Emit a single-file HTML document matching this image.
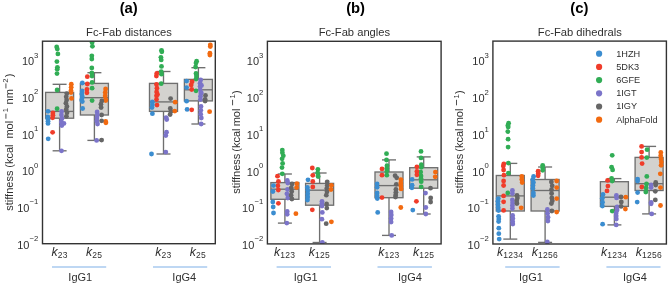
<!DOCTYPE html><html><head><meta charset="utf-8"><style>html,body{margin:0;padding:0;background:#fff;width:669px;height:286px;overflow:hidden}svg{display:block;will-change:transform}text{font-family:"Liberation Sans", sans-serif;fill:#303030}</style></head><body>
<svg width="669" height="286" viewBox="0 0 669 286">
<rect width="669" height="286" fill="#fff"/>
<text x="128.7" y="13.3" font-size="14.8" font-weight="bold" text-anchor="middle" style="fill:#000">(a)</text>
<text x="129.0" y="35.8" font-size="11.2" text-anchor="middle">Fc-Fab distances</text>
<g stroke="#6f6f6f" stroke-width="1.35" fill="none">
<line x1="59.6" y1="92.4" x2="59.6" y2="84.3"/>
<line x1="59.6" y1="118.2" x2="59.6" y2="150.8"/>
<line x1="52.6" y1="84.3" x2="66.6" y2="84.3"/>
<line x1="52.6" y1="150.8" x2="66.6" y2="150.8"/>
<rect x="45.6" y="92.4" width="28.0" height="25.8" fill="#d3d2cf"/>
<line x1="45.6" y1="111.4" x2="73.6" y2="111.4"/>
</g>
<g stroke="#6f6f6f" stroke-width="1.35" fill="none">
<line x1="94.4" y1="83.4" x2="94.4" y2="72.7"/>
<line x1="94.4" y1="115.0" x2="94.4" y2="140.4"/>
<line x1="87.4" y1="72.7" x2="101.4" y2="72.7"/>
<line x1="87.4" y1="140.4" x2="101.4" y2="140.4"/>
<rect x="80.4" y="83.4" width="28.0" height="31.6" fill="#d3d2cf"/>
<line x1="80.4" y1="97.7" x2="108.4" y2="97.7"/>
</g>
<g stroke="#6f6f6f" stroke-width="1.35" fill="none">
<line x1="163.5" y1="83.4" x2="163.5" y2="71.5"/>
<line x1="163.5" y1="111.4" x2="163.5" y2="154.0"/>
<line x1="156.5" y1="71.5" x2="170.5" y2="71.5"/>
<line x1="156.5" y1="154.0" x2="170.5" y2="154.0"/>
<rect x="149.5" y="83.4" width="28.0" height="28.0" fill="#d3d2cf"/>
<line x1="149.5" y1="101.9" x2="177.5" y2="101.9"/>
</g>
<g stroke="#6f6f6f" stroke-width="1.35" fill="none">
<line x1="198.4" y1="79.4" x2="198.4" y2="67.7"/>
<line x1="198.4" y1="100.9" x2="198.4" y2="124.0"/>
<line x1="191.4" y1="67.7" x2="205.4" y2="67.7"/>
<line x1="191.4" y1="124.0" x2="205.4" y2="124.0"/>
<rect x="184.4" y="79.4" width="28.0" height="21.5" fill="#d3d2cf"/>
<line x1="184.4" y1="89.8" x2="212.4" y2="89.8"/>
</g>
<text x="355.6" y="13.3" font-size="14.8" font-weight="bold" text-anchor="middle" style="fill:#000">(b)</text>
<text x="354.4" y="35.8" font-size="11.2" text-anchor="middle">Fc-Fab angles</text>
<g stroke="#6f6f6f" stroke-width="1.35" fill="none">
<line x1="284.9" y1="182.6" x2="284.9" y2="174.0"/>
<line x1="284.9" y1="199.3" x2="284.9" y2="223.1"/>
<line x1="277.9" y1="174.0" x2="291.9" y2="174.0"/>
<line x1="277.9" y1="223.1" x2="291.9" y2="223.1"/>
<rect x="270.9" y="182.6" width="28.0" height="16.7" fill="#d3d2cf"/>
<line x1="270.9" y1="189.2" x2="298.9" y2="189.2"/>
</g>
<g stroke="#6f6f6f" stroke-width="1.35" fill="none">
<line x1="319.6" y1="183.4" x2="319.6" y2="173.0"/>
<line x1="319.6" y1="205.2" x2="319.6" y2="242.5"/>
<line x1="312.6" y1="173.0" x2="326.6" y2="173.0"/>
<line x1="312.6" y1="242.5" x2="326.6" y2="242.5"/>
<rect x="305.6" y="183.4" width="28.0" height="21.8" fill="#d3d2cf"/>
<line x1="305.6" y1="190.2" x2="333.6" y2="190.2"/>
</g>
<g stroke="#6f6f6f" stroke-width="1.35" fill="none">
<line x1="389.0" y1="172.0" x2="389.0" y2="159.9"/>
<line x1="389.0" y1="197.7" x2="389.0" y2="235.4"/>
<line x1="382.0" y1="159.9" x2="396.0" y2="159.9"/>
<line x1="382.0" y1="235.4" x2="396.0" y2="235.4"/>
<rect x="375.0" y="172.0" width="28.0" height="25.7" fill="#d3d2cf"/>
<line x1="375.0" y1="185.6" x2="403.0" y2="185.6"/>
</g>
<g stroke="#6f6f6f" stroke-width="1.35" fill="none">
<line x1="423.7" y1="167.7" x2="423.7" y2="156.9"/>
<line x1="423.7" y1="188.2" x2="423.7" y2="214.0"/>
<line x1="416.7" y1="156.9" x2="430.7" y2="156.9"/>
<line x1="416.7" y1="214.0" x2="430.7" y2="214.0"/>
<rect x="409.7" y="167.7" width="28.0" height="20.5" fill="#d3d2cf"/>
<line x1="409.7" y1="179.8" x2="437.7" y2="179.8"/>
</g>
<text x="579.4" y="13.3" font-size="14.8" font-weight="bold" text-anchor="middle" style="fill:#000">(c)</text>
<text x="579.8" y="35.8" font-size="11.2" text-anchor="middle">Fc-Fab dihedrals</text>
<g stroke="#6f6f6f" stroke-width="1.35" fill="none">
<line x1="510.3" y1="175.5" x2="510.3" y2="163.4"/>
<line x1="510.3" y1="211.0" x2="510.3" y2="239.1"/>
<line x1="503.3" y1="163.4" x2="517.3" y2="163.4"/>
<line x1="503.3" y1="239.1" x2="517.3" y2="239.1"/>
<rect x="496.3" y="175.5" width="28.0" height="35.5" fill="#d3d2cf"/>
<line x1="496.3" y1="195.9" x2="524.3" y2="195.9"/>
</g>
<g stroke="#6f6f6f" stroke-width="1.35" fill="none">
<line x1="545.1" y1="179.5" x2="545.1" y2="167.0"/>
<line x1="545.1" y1="211.0" x2="545.1" y2="242.4"/>
<line x1="538.1" y1="167.0" x2="552.1" y2="167.0"/>
<line x1="538.1" y1="242.4" x2="552.1" y2="242.4"/>
<rect x="531.1" y="179.5" width="28.0" height="31.5" fill="#d3d2cf"/>
<line x1="531.1" y1="190.5" x2="559.1" y2="190.5"/>
</g>
<g stroke="#6f6f6f" stroke-width="1.35" fill="none">
<line x1="614.4" y1="181.7" x2="614.4" y2="178.6"/>
<line x1="614.4" y1="206.4" x2="614.4" y2="224.9"/>
<line x1="607.4" y1="178.6" x2="621.4" y2="178.6"/>
<line x1="607.4" y1="224.9" x2="621.4" y2="224.9"/>
<rect x="600.4" y="181.7" width="28.0" height="24.7" fill="#d3d2cf"/>
<line x1="600.4" y1="197.2" x2="628.4" y2="197.2"/>
</g>
<g stroke="#6f6f6f" stroke-width="1.35" fill="none">
<line x1="649.1" y1="157.4" x2="649.1" y2="146.4"/>
<line x1="649.1" y1="190.5" x2="649.1" y2="213.9"/>
<line x1="642.1" y1="146.4" x2="656.1" y2="146.4"/>
<line x1="642.1" y1="213.9" x2="656.1" y2="213.9"/>
<rect x="635.1" y="157.4" width="28.0" height="33.1" fill="#d3d2cf"/>
<line x1="635.1" y1="183.7" x2="663.1" y2="183.7"/>
</g>
<defs><clipPath id="cp0"><rect x="42.5" y="41.2" width="172.8" height="202.5"/></clipPath><clipPath id="cp1"><rect x="267.4" y="41.3" width="173.7" height="202.6"/></clipPath><clipPath id="cp2"><rect x="492.9" y="41.1" width="173.5" height="202.9"/></clipPath></defs>
<g clip-path="url(#cp0)">
<circle cx="56.7" cy="46.9" r="2.42" fill="#31ad55"/>
<circle cx="57.3" cy="49.1" r="2.42" fill="#31ad55"/>
<circle cx="57.9" cy="53.9" r="2.42" fill="#31ad55"/>
<circle cx="56.9" cy="61.6" r="2.42" fill="#31ad55"/>
<circle cx="57.4" cy="67.3" r="2.42" fill="#31ad55"/>
<circle cx="57.2" cy="69.2" r="2.42" fill="#31ad55"/>
<circle cx="57.0" cy="73.6" r="2.42" fill="#31ad55"/>
<circle cx="57.1" cy="90.0" r="2.42" fill="#31ad55"/>
<circle cx="57.1" cy="108.7" r="2.42" fill="#31ad55"/>
<circle cx="71.3" cy="84.2" r="2.42" fill="#f26a10"/>
<circle cx="71.2" cy="87.3" r="2.42" fill="#f26a10"/>
<circle cx="71.0" cy="90.5" r="2.42" fill="#f26a10"/>
<circle cx="71.0" cy="92.6" r="2.42" fill="#f26a10"/>
<circle cx="71.5" cy="98.4" r="2.42" fill="#f26a10"/>
<circle cx="66.8" cy="93.6" r="2.42" fill="#666666"/>
<circle cx="66.2" cy="96.8" r="2.42" fill="#666666"/>
<circle cx="66.6" cy="100.0" r="2.42" fill="#666666"/>
<circle cx="65.9" cy="103.2" r="2.42" fill="#666666"/>
<circle cx="66.9" cy="106.4" r="2.42" fill="#666666"/>
<circle cx="66.2" cy="109.5" r="2.42" fill="#666666"/>
<circle cx="67.0" cy="112.7" r="2.42" fill="#666666"/>
<circle cx="66.4" cy="116.3" r="2.42" fill="#666666"/>
<circle cx="48.0" cy="111.3" r="2.42" fill="#3b8dd0"/>
<circle cx="47.8" cy="117.0" r="2.42" fill="#3b8dd0"/>
<circle cx="48.0" cy="119.2" r="2.42" fill="#3b8dd0"/>
<circle cx="48.0" cy="121.3" r="2.42" fill="#3b8dd0"/>
<circle cx="48.0" cy="123.4" r="2.42" fill="#3b8dd0"/>
<circle cx="48.2" cy="138.8" r="2.42" fill="#3b8dd0"/>
<circle cx="52.9" cy="112.9" r="2.42" fill="#f03c2a"/>
<circle cx="52.9" cy="115.2" r="2.42" fill="#f03c2a"/>
<circle cx="52.6" cy="117.8" r="2.42" fill="#f03c2a"/>
<circle cx="52.6" cy="132.3" r="2.42" fill="#f03c2a"/>
<circle cx="61.6" cy="111.5" r="2.42" fill="#7b74c9"/>
<circle cx="61.4" cy="115.0" r="2.42" fill="#7b74c9"/>
<circle cx="62.0" cy="118.5" r="2.42" fill="#7b74c9"/>
<circle cx="61.3" cy="122.0" r="2.42" fill="#7b74c9"/>
<circle cx="61.8" cy="125.5" r="2.42" fill="#7b74c9"/>
<circle cx="63.9" cy="123.4" r="2.42" fill="#7b74c9"/>
<circle cx="61.5" cy="150.8" r="2.42" fill="#7b74c9"/>
<circle cx="92.1" cy="42.6" r="2.42" fill="#31ad55"/>
<circle cx="92.4" cy="46.3" r="2.42" fill="#31ad55"/>
<circle cx="91.8" cy="55.8" r="2.42" fill="#31ad55"/>
<circle cx="91.8" cy="59.0" r="2.42" fill="#31ad55"/>
<circle cx="91.8" cy="67.9" r="2.42" fill="#31ad55"/>
<circle cx="91.8" cy="73.0" r="2.42" fill="#31ad55"/>
<circle cx="92.0" cy="76.0" r="2.42" fill="#31ad55"/>
<circle cx="92.1" cy="82.4" r="2.42" fill="#31ad55"/>
<circle cx="92.1" cy="88.2" r="2.42" fill="#31ad55"/>
<circle cx="92.1" cy="100.6" r="2.42" fill="#31ad55"/>
<circle cx="87.3" cy="76.7" r="2.42" fill="#f03c2a"/>
<circle cx="87.3" cy="84.0" r="2.42" fill="#f03c2a"/>
<circle cx="86.9" cy="89.5" r="2.42" fill="#f03c2a"/>
<circle cx="86.9" cy="92.8" r="2.42" fill="#f03c2a"/>
<circle cx="82.3" cy="83.0" r="2.42" fill="#3b8dd0"/>
<circle cx="82.1" cy="91.0" r="2.42" fill="#3b8dd0"/>
<circle cx="81.8" cy="94.0" r="2.42" fill="#3b8dd0"/>
<circle cx="82.3" cy="97.0" r="2.42" fill="#3b8dd0"/>
<circle cx="81.7" cy="100.0" r="2.42" fill="#3b8dd0"/>
<circle cx="82.3" cy="101.6" r="2.42" fill="#3b8dd0"/>
<circle cx="82.6" cy="108.5" r="2.42" fill="#3b8dd0"/>
<circle cx="105.6" cy="89.0" r="2.42" fill="#f26a10"/>
<circle cx="105.2" cy="92.5" r="2.42" fill="#f26a10"/>
<circle cx="105.2" cy="96.0" r="2.42" fill="#f26a10"/>
<circle cx="105.6" cy="99.5" r="2.42" fill="#f26a10"/>
<circle cx="105.7" cy="100.6" r="2.42" fill="#f26a10"/>
<circle cx="105.7" cy="121.5" r="2.42" fill="#f26a10"/>
<circle cx="105.9" cy="122.8" r="2.42" fill="#f26a10"/>
<circle cx="101.8" cy="101.0" r="2.42" fill="#666666"/>
<circle cx="100.9" cy="104.2" r="2.42" fill="#666666"/>
<circle cx="101.1" cy="107.5" r="2.42" fill="#666666"/>
<circle cx="101.6" cy="115.0" r="2.42" fill="#666666"/>
<circle cx="101.6" cy="120.8" r="2.42" fill="#666666"/>
<circle cx="101.6" cy="140.1" r="2.42" fill="#666666"/>
<circle cx="97.1" cy="112.0" r="2.42" fill="#7b74c9"/>
<circle cx="97.4" cy="115.0" r="2.42" fill="#7b74c9"/>
<circle cx="97.0" cy="118.0" r="2.42" fill="#7b74c9"/>
<circle cx="96.8" cy="121.0" r="2.42" fill="#7b74c9"/>
<circle cx="97.5" cy="124.0" r="2.42" fill="#7b74c9"/>
<circle cx="96.6" cy="140.4" r="2.42" fill="#7b74c9"/>
<circle cx="161.5" cy="50.3" r="2.42" fill="#31ad55"/>
<circle cx="161.8" cy="51.8" r="2.42" fill="#31ad55"/>
<circle cx="160.9" cy="57.3" r="2.42" fill="#31ad55"/>
<circle cx="161.2" cy="59.9" r="2.42" fill="#31ad55"/>
<circle cx="161.5" cy="66.4" r="2.42" fill="#31ad55"/>
<circle cx="161.2" cy="71.6" r="2.42" fill="#31ad55"/>
<circle cx="161.5" cy="74.2" r="2.42" fill="#31ad55"/>
<circle cx="161.2" cy="83.7" r="2.42" fill="#31ad55"/>
<circle cx="156.8" cy="73.3" r="2.42" fill="#f03c2a"/>
<circle cx="156.4" cy="76.0" r="2.42" fill="#f03c2a"/>
<circle cx="156.5" cy="84.5" r="2.42" fill="#f03c2a"/>
<circle cx="156.9" cy="88.2" r="2.42" fill="#f03c2a"/>
<circle cx="156.6" cy="92.0" r="2.42" fill="#f03c2a"/>
<circle cx="156.5" cy="95.8" r="2.42" fill="#f03c2a"/>
<circle cx="156.5" cy="99.5" r="2.42" fill="#f03c2a"/>
<circle cx="157.5" cy="94.5" r="2.42" fill="#f03c2a"/>
<circle cx="157.0" cy="105.1" r="2.42" fill="#f03c2a"/>
<circle cx="170.6" cy="98.6" r="2.42" fill="#666666"/>
<circle cx="170.3" cy="108.5" r="2.42" fill="#666666"/>
<circle cx="170.9" cy="111.5" r="2.42" fill="#666666"/>
<circle cx="170.1" cy="114.5" r="2.42" fill="#666666"/>
<circle cx="175.2" cy="102.2" r="2.42" fill="#f26a10"/>
<circle cx="174.8" cy="111.1" r="2.42" fill="#f26a10"/>
<circle cx="152.3" cy="102.0" r="2.42" fill="#3b8dd0"/>
<circle cx="152.4" cy="104.8" r="2.42" fill="#3b8dd0"/>
<circle cx="152.0" cy="107.5" r="2.42" fill="#3b8dd0"/>
<circle cx="152.4" cy="113.7" r="2.42" fill="#3b8dd0"/>
<circle cx="151.5" cy="154.0" r="2.42" fill="#3b8dd0"/>
<circle cx="166.1" cy="117.6" r="2.42" fill="#7b74c9"/>
<circle cx="166.7" cy="119.5" r="2.42" fill="#7b74c9"/>
<circle cx="166.5" cy="132.2" r="2.42" fill="#7b74c9"/>
<circle cx="165.8" cy="135.5" r="2.42" fill="#7b74c9"/>
<circle cx="165.8" cy="152.1" r="2.42" fill="#7b74c9"/>
<circle cx="210.3" cy="44.8" r="2.42" fill="#f26a10"/>
<circle cx="210.3" cy="46.6" r="2.42" fill="#f26a10"/>
<circle cx="209.9" cy="53.2" r="2.42" fill="#f26a10"/>
<circle cx="209.9" cy="55.0" r="2.42" fill="#f26a10"/>
<circle cx="209.6" cy="111.7" r="2.42" fill="#f26a10"/>
<circle cx="196.6" cy="61.2" r="2.42" fill="#31ad55"/>
<circle cx="196.0" cy="63.1" r="2.42" fill="#31ad55"/>
<circle cx="195.6" cy="67.0" r="2.42" fill="#31ad55"/>
<circle cx="196.0" cy="73.5" r="2.42" fill="#31ad55"/>
<circle cx="196.4" cy="76.1" r="2.42" fill="#31ad55"/>
<circle cx="196.0" cy="79.1" r="2.42" fill="#31ad55"/>
<circle cx="196.0" cy="90.8" r="2.42" fill="#31ad55"/>
<circle cx="186.6" cy="81.1" r="2.42" fill="#3b8dd0"/>
<circle cx="186.6" cy="87.6" r="2.42" fill="#3b8dd0"/>
<circle cx="186.6" cy="101.2" r="2.42" fill="#3b8dd0"/>
<circle cx="187.1" cy="109.4" r="2.42" fill="#3b8dd0"/>
<circle cx="192.1" cy="81.7" r="2.42" fill="#f03c2a"/>
<circle cx="191.2" cy="85.0" r="2.42" fill="#f03c2a"/>
<circle cx="191.7" cy="89.5" r="2.42" fill="#f03c2a"/>
<circle cx="191.7" cy="109.8" r="2.42" fill="#f03c2a"/>
<circle cx="200.7" cy="80.0" r="2.42" fill="#7b74c9"/>
<circle cx="200.1" cy="83.2" r="2.42" fill="#7b74c9"/>
<circle cx="200.1" cy="86.5" r="2.42" fill="#7b74c9"/>
<circle cx="200.2" cy="89.8" r="2.42" fill="#7b74c9"/>
<circle cx="200.8" cy="93.0" r="2.42" fill="#7b74c9"/>
<circle cx="200.5" cy="96.2" r="2.42" fill="#7b74c9"/>
<circle cx="200.4" cy="99.5" r="2.42" fill="#7b74c9"/>
<circle cx="201.5" cy="85.5" r="2.42" fill="#7b74c9"/>
<circle cx="201.3" cy="93.0" r="2.42" fill="#7b74c9"/>
<circle cx="201.0" cy="106.5" r="2.42" fill="#7b74c9"/>
<circle cx="200.8" cy="110.3" r="2.42" fill="#7b74c9"/>
<circle cx="200.7" cy="114.2" r="2.42" fill="#7b74c9"/>
<circle cx="201.3" cy="118.0" r="2.42" fill="#7b74c9"/>
<circle cx="201.2" cy="124.0" r="2.42" fill="#7b74c9"/>
<circle cx="205.5" cy="95.4" r="2.42" fill="#666666"/>
<circle cx="205.1" cy="99.3" r="2.42" fill="#666666"/>
<circle cx="205.1" cy="101.0" r="2.42" fill="#666666"/>
</g>
<g clip-path="url(#cp1)">
<circle cx="282.3" cy="150.1" r="2.42" fill="#31ad55"/>
<circle cx="282.4" cy="152.8" r="2.42" fill="#31ad55"/>
<circle cx="283.3" cy="155.8" r="2.42" fill="#31ad55"/>
<circle cx="282.1" cy="158.8" r="2.42" fill="#31ad55"/>
<circle cx="282.6" cy="163.4" r="2.42" fill="#31ad55"/>
<circle cx="282.0" cy="167.6" r="2.42" fill="#31ad55"/>
<circle cx="282.3" cy="173.8" r="2.42" fill="#31ad55"/>
<circle cx="277.5" cy="176.2" r="2.42" fill="#f03c2a"/>
<circle cx="278.4" cy="181.5" r="2.42" fill="#f03c2a"/>
<circle cx="277.9" cy="185.8" r="2.42" fill="#f03c2a"/>
<circle cx="278.3" cy="190.0" r="2.42" fill="#f03c2a"/>
<circle cx="278.4" cy="203.3" r="2.42" fill="#f03c2a"/>
<circle cx="287.3" cy="180.4" r="2.42" fill="#7b74c9"/>
<circle cx="287.8" cy="183.0" r="2.42" fill="#7b74c9"/>
<circle cx="287.5" cy="189.5" r="2.42" fill="#7b74c9"/>
<circle cx="286.9" cy="193.8" r="2.42" fill="#7b74c9"/>
<circle cx="287.8" cy="198.0" r="2.42" fill="#7b74c9"/>
<circle cx="287.2" cy="211.4" r="2.42" fill="#7b74c9"/>
<circle cx="287.2" cy="214.3" r="2.42" fill="#7b74c9"/>
<circle cx="286.8" cy="223.1" r="2.42" fill="#7b74c9"/>
<circle cx="273.5" cy="185.6" r="2.42" fill="#3b8dd0"/>
<circle cx="272.9" cy="191.5" r="2.42" fill="#3b8dd0"/>
<circle cx="272.8" cy="202.0" r="2.42" fill="#3b8dd0"/>
<circle cx="273.2" cy="207.0" r="2.42" fill="#3b8dd0"/>
<circle cx="273.5" cy="213.0" r="2.42" fill="#3b8dd0"/>
<circle cx="292.0" cy="184.0" r="2.42" fill="#666666"/>
<circle cx="291.3" cy="187.8" r="2.42" fill="#666666"/>
<circle cx="291.7" cy="191.5" r="2.42" fill="#666666"/>
<circle cx="291.1" cy="195.2" r="2.42" fill="#666666"/>
<circle cx="291.9" cy="199.0" r="2.42" fill="#666666"/>
<circle cx="296.9" cy="183.7" r="2.42" fill="#f26a10"/>
<circle cx="296.6" cy="187.6" r="2.42" fill="#f26a10"/>
<circle cx="295.9" cy="213.7" r="2.42" fill="#f26a10"/>
<circle cx="312.3" cy="168.0" r="2.42" fill="#f03c2a"/>
<circle cx="312.8" cy="175.3" r="2.42" fill="#f03c2a"/>
<circle cx="312.8" cy="181.4" r="2.42" fill="#f03c2a"/>
<circle cx="312.8" cy="186.9" r="2.42" fill="#f03c2a"/>
<circle cx="312.3" cy="209.8" r="2.42" fill="#f03c2a"/>
<circle cx="317.9" cy="169.3" r="2.42" fill="#31ad55"/>
<circle cx="317.7" cy="172.9" r="2.42" fill="#31ad55"/>
<circle cx="318.1" cy="176.5" r="2.42" fill="#31ad55"/>
<circle cx="308.0" cy="179.8" r="2.42" fill="#3b8dd0"/>
<circle cx="307.4" cy="187.5" r="2.42" fill="#3b8dd0"/>
<circle cx="307.8" cy="190.6" r="2.42" fill="#3b8dd0"/>
<circle cx="307.7" cy="193.8" r="2.42" fill="#3b8dd0"/>
<circle cx="307.7" cy="196.9" r="2.42" fill="#3b8dd0"/>
<circle cx="307.5" cy="200.0" r="2.42" fill="#3b8dd0"/>
<circle cx="327.2" cy="181.8" r="2.42" fill="#666666"/>
<circle cx="327.3" cy="185.2" r="2.42" fill="#666666"/>
<circle cx="326.8" cy="188.5" r="2.42" fill="#666666"/>
<circle cx="327.0" cy="191.8" r="2.42" fill="#666666"/>
<circle cx="326.3" cy="195.2" r="2.42" fill="#666666"/>
<circle cx="326.6" cy="203.9" r="2.42" fill="#666666"/>
<circle cx="326.8" cy="208.1" r="2.42" fill="#666666"/>
<circle cx="326.2" cy="223.7" r="2.42" fill="#666666"/>
<circle cx="331.4" cy="185.3" r="2.42" fill="#f26a10"/>
<circle cx="331.0" cy="189.5" r="2.42" fill="#f26a10"/>
<circle cx="331.4" cy="221.8" r="2.42" fill="#f26a10"/>
<circle cx="322.0" cy="201.3" r="2.42" fill="#7b74c9"/>
<circle cx="321.9" cy="203.6" r="2.42" fill="#7b74c9"/>
<circle cx="322.0" cy="206.0" r="2.42" fill="#7b74c9"/>
<circle cx="322.3" cy="212.4" r="2.42" fill="#7b74c9"/>
<circle cx="321.9" cy="219.2" r="2.42" fill="#7b74c9"/>
<circle cx="322.3" cy="242.3" r="2.42" fill="#7b74c9"/>
<circle cx="386.5" cy="153.7" r="2.42" fill="#31ad55"/>
<circle cx="386.5" cy="160.0" r="2.42" fill="#31ad55"/>
<circle cx="387.0" cy="165.7" r="2.42" fill="#31ad55"/>
<circle cx="386.8" cy="168.4" r="2.42" fill="#31ad55"/>
<circle cx="386.8" cy="171.0" r="2.42" fill="#31ad55"/>
<circle cx="386.8" cy="175.2" r="2.42" fill="#31ad55"/>
<circle cx="382.0" cy="168.9" r="2.42" fill="#f03c2a"/>
<circle cx="382.0" cy="175.2" r="2.42" fill="#f03c2a"/>
<circle cx="382.0" cy="197.6" r="2.42" fill="#f03c2a"/>
<circle cx="395.1" cy="175.7" r="2.42" fill="#666666"/>
<circle cx="396.7" cy="177.8" r="2.42" fill="#666666"/>
<circle cx="396.3" cy="184.3" r="2.42" fill="#666666"/>
<circle cx="395.9" cy="189.5" r="2.42" fill="#666666"/>
<circle cx="395.9" cy="192.3" r="2.42" fill="#666666"/>
<circle cx="395.7" cy="195.0" r="2.42" fill="#666666"/>
<circle cx="395.5" cy="197.0" r="2.42" fill="#666666"/>
<circle cx="400.9" cy="179.6" r="2.42" fill="#f26a10"/>
<circle cx="400.8" cy="183.0" r="2.42" fill="#f26a10"/>
<circle cx="400.9" cy="186.0" r="2.42" fill="#f26a10"/>
<circle cx="401.1" cy="188.9" r="2.42" fill="#f26a10"/>
<circle cx="400.8" cy="207.5" r="2.42" fill="#f26a10"/>
<circle cx="377.1" cy="184.0" r="2.42" fill="#3b8dd0"/>
<circle cx="377.1" cy="187.3" r="2.42" fill="#3b8dd0"/>
<circle cx="377.1" cy="193.0" r="2.42" fill="#3b8dd0"/>
<circle cx="377.1" cy="196.0" r="2.42" fill="#3b8dd0"/>
<circle cx="377.3" cy="198.6" r="2.42" fill="#3b8dd0"/>
<circle cx="377.7" cy="212.4" r="2.42" fill="#3b8dd0"/>
<circle cx="391.1" cy="212.0" r="2.42" fill="#7b74c9"/>
<circle cx="391.3" cy="215.0" r="2.42" fill="#7b74c9"/>
<circle cx="391.1" cy="218.5" r="2.42" fill="#7b74c9"/>
<circle cx="391.1" cy="222.0" r="2.42" fill="#7b74c9"/>
<circle cx="391.7" cy="235.4" r="2.42" fill="#7b74c9"/>
<circle cx="421.0" cy="151.4" r="2.42" fill="#31ad55"/>
<circle cx="421.0" cy="157.9" r="2.42" fill="#31ad55"/>
<circle cx="421.3" cy="164.7" r="2.42" fill="#31ad55"/>
<circle cx="421.3" cy="167.3" r="2.42" fill="#31ad55"/>
<circle cx="420.7" cy="172.1" r="2.42" fill="#31ad55"/>
<circle cx="421.0" cy="175.9" r="2.42" fill="#31ad55"/>
<circle cx="421.0" cy="178.5" r="2.42" fill="#31ad55"/>
<circle cx="421.2" cy="181.7" r="2.42" fill="#31ad55"/>
<circle cx="421.2" cy="186.9" r="2.42" fill="#31ad55"/>
<circle cx="416.9" cy="166.8" r="2.42" fill="#f03c2a"/>
<circle cx="416.9" cy="171.5" r="2.42" fill="#f03c2a"/>
<circle cx="416.9" cy="174.8" r="2.42" fill="#f03c2a"/>
<circle cx="416.4" cy="201.3" r="2.42" fill="#f03c2a"/>
<circle cx="435.4" cy="172.1" r="2.42" fill="#f26a10"/>
<circle cx="435.2" cy="176.8" r="2.42" fill="#f26a10"/>
<circle cx="412.1" cy="179.4" r="2.42" fill="#3b8dd0"/>
<circle cx="412.1" cy="185.2" r="2.42" fill="#3b8dd0"/>
<circle cx="411.9" cy="187.8" r="2.42" fill="#3b8dd0"/>
<circle cx="412.8" cy="210.1" r="2.42" fill="#3b8dd0"/>
<circle cx="430.5" cy="188.2" r="2.42" fill="#666666"/>
<circle cx="430.7" cy="198.0" r="2.42" fill="#666666"/>
<circle cx="430.6" cy="202.0" r="2.42" fill="#666666"/>
<circle cx="425.5" cy="193.1" r="2.42" fill="#7b74c9"/>
<circle cx="425.8" cy="207.5" r="2.42" fill="#7b74c9"/>
<circle cx="425.8" cy="214.0" r="2.42" fill="#7b74c9"/>
</g>
<g clip-path="url(#cp2)">
<circle cx="508.6" cy="123.2" r="2.42" fill="#31ad55"/>
<circle cx="507.9" cy="125.4" r="2.42" fill="#31ad55"/>
<circle cx="508.2" cy="127.0" r="2.42" fill="#31ad55"/>
<circle cx="507.8" cy="131.6" r="2.42" fill="#31ad55"/>
<circle cx="508.1" cy="139.2" r="2.42" fill="#31ad55"/>
<circle cx="508.1" cy="147.1" r="2.42" fill="#31ad55"/>
<circle cx="508.4" cy="163.1" r="2.42" fill="#31ad55"/>
<circle cx="508.4" cy="173.2" r="2.42" fill="#31ad55"/>
<circle cx="507.8" cy="192.9" r="2.42" fill="#31ad55"/>
<circle cx="503.8" cy="163.8" r="2.42" fill="#f03c2a"/>
<circle cx="503.3" cy="166.0" r="2.42" fill="#f03c2a"/>
<circle cx="503.6" cy="170.0" r="2.42" fill="#f03c2a"/>
<circle cx="503.9" cy="175.2" r="2.42" fill="#f03c2a"/>
<circle cx="503.6" cy="180.9" r="2.42" fill="#f03c2a"/>
<circle cx="503.6" cy="185.5" r="2.42" fill="#f03c2a"/>
<circle cx="503.6" cy="195.9" r="2.42" fill="#f03c2a"/>
<circle cx="503.6" cy="201.8" r="2.42" fill="#f03c2a"/>
<circle cx="503.6" cy="210.4" r="2.42" fill="#f03c2a"/>
<circle cx="521.8" cy="176.5" r="2.42" fill="#f26a10"/>
<circle cx="521.8" cy="179.5" r="2.42" fill="#f26a10"/>
<circle cx="522.2" cy="182.5" r="2.42" fill="#f26a10"/>
<circle cx="521.2" cy="207.8" r="2.42" fill="#f26a10"/>
<circle cx="512.4" cy="190.5" r="2.42" fill="#7b74c9"/>
<circle cx="512.4" cy="193.5" r="2.42" fill="#7b74c9"/>
<circle cx="512.4" cy="200.0" r="2.42" fill="#7b74c9"/>
<circle cx="512.6" cy="202.8" r="2.42" fill="#7b74c9"/>
<circle cx="512.4" cy="205.5" r="2.42" fill="#7b74c9"/>
<circle cx="512.4" cy="208.5" r="2.42" fill="#7b74c9"/>
<circle cx="512.6" cy="215.5" r="2.42" fill="#7b74c9"/>
<circle cx="512.8" cy="218.5" r="2.42" fill="#7b74c9"/>
<circle cx="512.6" cy="221.5" r="2.42" fill="#7b74c9"/>
<circle cx="512.8" cy="224.0" r="2.42" fill="#7b74c9"/>
<circle cx="517.0" cy="195.3" r="2.42" fill="#666666"/>
<circle cx="517.4" cy="198.0" r="2.42" fill="#666666"/>
<circle cx="516.7" cy="200.8" r="2.42" fill="#666666"/>
<circle cx="516.9" cy="203.5" r="2.42" fill="#666666"/>
<circle cx="498.3" cy="198.6" r="2.42" fill="#3b8dd0"/>
<circle cx="497.9" cy="201.2" r="2.42" fill="#3b8dd0"/>
<circle cx="498.0" cy="204.5" r="2.42" fill="#3b8dd0"/>
<circle cx="498.2" cy="207.5" r="2.42" fill="#3b8dd0"/>
<circle cx="498.5" cy="210.5" r="2.42" fill="#3b8dd0"/>
<circle cx="498.6" cy="216.3" r="2.42" fill="#3b8dd0"/>
<circle cx="498.8" cy="219.0" r="2.42" fill="#3b8dd0"/>
<circle cx="498.6" cy="221.6" r="2.42" fill="#3b8dd0"/>
<circle cx="498.8" cy="228.2" r="2.42" fill="#3b8dd0"/>
<circle cx="498.8" cy="233.7" r="2.42" fill="#3b8dd0"/>
<circle cx="499.2" cy="239.1" r="2.42" fill="#3b8dd0"/>
<circle cx="542.7" cy="165.3" r="2.42" fill="#31ad55"/>
<circle cx="542.7" cy="167.8" r="2.42" fill="#31ad55"/>
<circle cx="542.7" cy="170.3" r="2.42" fill="#31ad55"/>
<circle cx="538.1" cy="171.2" r="2.42" fill="#f03c2a"/>
<circle cx="538.3" cy="173.5" r="2.42" fill="#f03c2a"/>
<circle cx="538.1" cy="175.8" r="2.42" fill="#f03c2a"/>
<circle cx="533.6" cy="176.5" r="2.42" fill="#3b8dd0"/>
<circle cx="532.8" cy="179.5" r="2.42" fill="#3b8dd0"/>
<circle cx="533.4" cy="182.5" r="2.42" fill="#3b8dd0"/>
<circle cx="533.0" cy="185.5" r="2.42" fill="#3b8dd0"/>
<circle cx="532.9" cy="188.5" r="2.42" fill="#3b8dd0"/>
<circle cx="533.4" cy="192.9" r="2.42" fill="#3b8dd0"/>
<circle cx="533.4" cy="195.5" r="2.42" fill="#3b8dd0"/>
<circle cx="551.4" cy="182.0" r="2.42" fill="#666666"/>
<circle cx="552.2" cy="185.8" r="2.42" fill="#666666"/>
<circle cx="551.5" cy="189.7" r="2.42" fill="#666666"/>
<circle cx="551.6" cy="193.5" r="2.42" fill="#666666"/>
<circle cx="551.8" cy="198.0" r="2.42" fill="#666666"/>
<circle cx="552.3" cy="200.8" r="2.42" fill="#666666"/>
<circle cx="551.4" cy="203.5" r="2.42" fill="#666666"/>
<circle cx="551.9" cy="211.0" r="2.42" fill="#666666"/>
<circle cx="556.7" cy="181.0" r="2.42" fill="#f26a10"/>
<circle cx="556.7" cy="187.6" r="2.42" fill="#f26a10"/>
<circle cx="556.7" cy="198.6" r="2.42" fill="#f26a10"/>
<circle cx="556.7" cy="212.1" r="2.42" fill="#f26a10"/>
<circle cx="547.4" cy="209.5" r="2.42" fill="#7b74c9"/>
<circle cx="547.6" cy="213.3" r="2.42" fill="#7b74c9"/>
<circle cx="548.0" cy="217.2" r="2.42" fill="#7b74c9"/>
<circle cx="547.9" cy="221.0" r="2.42" fill="#7b74c9"/>
<circle cx="547.3" cy="242.0" r="2.42" fill="#7b74c9"/>
<circle cx="612.2" cy="155.3" r="2.42" fill="#31ad55"/>
<circle cx="611.6" cy="167.2" r="2.42" fill="#31ad55"/>
<circle cx="612.6" cy="169.9" r="2.42" fill="#31ad55"/>
<circle cx="611.6" cy="178.4" r="2.42" fill="#31ad55"/>
<circle cx="612.2" cy="181.1" r="2.42" fill="#31ad55"/>
<circle cx="612.2" cy="211.1" r="2.42" fill="#31ad55"/>
<circle cx="607.6" cy="180.4" r="2.42" fill="#f03c2a"/>
<circle cx="607.9" cy="186.1" r="2.42" fill="#f03c2a"/>
<circle cx="607.0" cy="190.9" r="2.42" fill="#f03c2a"/>
<circle cx="603.0" cy="194.5" r="2.42" fill="#3b8dd0"/>
<circle cx="602.3" cy="198.3" r="2.42" fill="#3b8dd0"/>
<circle cx="602.5" cy="202.2" r="2.42" fill="#3b8dd0"/>
<circle cx="602.4" cy="206.0" r="2.42" fill="#3b8dd0"/>
<circle cx="602.6" cy="224.2" r="2.42" fill="#3b8dd0"/>
<circle cx="616.4" cy="195.5" r="2.42" fill="#7b74c9"/>
<circle cx="616.6" cy="197.9" r="2.42" fill="#7b74c9"/>
<circle cx="617.1" cy="207.0" r="2.42" fill="#7b74c9"/>
<circle cx="617.1" cy="210.0" r="2.42" fill="#7b74c9"/>
<circle cx="616.2" cy="213.0" r="2.42" fill="#7b74c9"/>
<circle cx="616.2" cy="216.0" r="2.42" fill="#7b74c9"/>
<circle cx="616.3" cy="219.0" r="2.42" fill="#7b74c9"/>
<circle cx="616.2" cy="224.9" r="2.42" fill="#7b74c9"/>
<circle cx="621.0" cy="197.0" r="2.42" fill="#666666"/>
<circle cx="621.3" cy="202.0" r="2.42" fill="#666666"/>
<circle cx="621.1" cy="206.4" r="2.42" fill="#666666"/>
<circle cx="625.8" cy="197.2" r="2.42" fill="#f26a10"/>
<circle cx="625.4" cy="209.1" r="2.42" fill="#f26a10"/>
<circle cx="641.6" cy="146.4" r="2.42" fill="#f03c2a"/>
<circle cx="641.6" cy="152.1" r="2.42" fill="#f03c2a"/>
<circle cx="641.6" cy="157.4" r="2.42" fill="#f03c2a"/>
<circle cx="642.1" cy="163.6" r="2.42" fill="#f03c2a"/>
<circle cx="641.8" cy="187.0" r="2.42" fill="#f03c2a"/>
<circle cx="647.1" cy="149.7" r="2.42" fill="#31ad55"/>
<circle cx="646.8" cy="157.6" r="2.42" fill="#31ad55"/>
<circle cx="646.8" cy="176.4" r="2.42" fill="#31ad55"/>
<circle cx="646.5" cy="184.0" r="2.42" fill="#31ad55"/>
<circle cx="646.1" cy="188.0" r="2.42" fill="#31ad55"/>
<circle cx="645.8" cy="192.0" r="2.42" fill="#31ad55"/>
<circle cx="660.8" cy="152.5" r="2.42" fill="#f26a10"/>
<circle cx="660.7" cy="155.7" r="2.42" fill="#f26a10"/>
<circle cx="661.0" cy="158.9" r="2.42" fill="#f26a10"/>
<circle cx="661.4" cy="162.1" r="2.42" fill="#f26a10"/>
<circle cx="661.1" cy="165.3" r="2.42" fill="#f26a10"/>
<circle cx="660.3" cy="173.8" r="2.42" fill="#f26a10"/>
<circle cx="660.5" cy="187.6" r="2.42" fill="#f26a10"/>
<circle cx="660.5" cy="205.5" r="2.42" fill="#f26a10"/>
<circle cx="637.6" cy="179.1" r="2.42" fill="#3b8dd0"/>
<circle cx="637.6" cy="181.0" r="2.42" fill="#3b8dd0"/>
<circle cx="637.6" cy="192.6" r="2.42" fill="#3b8dd0"/>
<circle cx="637.2" cy="202.1" r="2.42" fill="#3b8dd0"/>
<circle cx="651.1" cy="185.0" r="2.42" fill="#7b74c9"/>
<circle cx="651.1" cy="187.6" r="2.42" fill="#7b74c9"/>
<circle cx="651.1" cy="202.5" r="2.42" fill="#7b74c9"/>
<circle cx="651.1" cy="203.8" r="2.42" fill="#7b74c9"/>
<circle cx="651.7" cy="213.9" r="2.42" fill="#7b74c9"/>
<circle cx="655.7" cy="182.4" r="2.42" fill="#666666"/>
<circle cx="655.7" cy="185.0" r="2.42" fill="#666666"/>
<circle cx="655.3" cy="191.3" r="2.42" fill="#666666"/>
<circle cx="655.3" cy="199.9" r="2.42" fill="#666666"/>
</g>
<rect x="42.5" y="41.2" width="172.8" height="202.5" fill="none" stroke="#333333" stroke-width="1.4"/>
<text x="38.3" y="248.9" font-size="11" text-anchor="end">10<tspan dx="0.1" dy="-8.1" font-size="7.7">−2</tspan></text>
<text x="38.3" y="212.1" font-size="11" text-anchor="end">10<tspan dx="0.1" dy="-8.1" font-size="7.7">−1</tspan></text>
<text x="38.3" y="175.3" font-size="11" text-anchor="end">10<tspan dx="-0.2" dy="-7.4" font-size="7.7">0</tspan></text>
<text x="38.3" y="138.6" font-size="11" text-anchor="end">10<tspan dx="-0.2" dy="-7.4" font-size="7.7">1</tspan></text>
<text x="38.3" y="101.8" font-size="11" text-anchor="end">10<tspan dx="-0.2" dy="-7.4" font-size="7.7">2</tspan></text>
<text x="38.3" y="65.0" font-size="11" text-anchor="end">10<tspan dx="-0.2" dy="-7.4" font-size="7.7">3</tspan></text>
<text x="59.7" y="255.6" text-anchor="middle"><tspan font-style="italic" font-size="12.3">k</tspan><tspan dx="0.1" dy="2.4" font-size="8.5" letter-spacing="0.25">23</tspan></text>
<text x="94.2" y="255.6" text-anchor="middle"><tspan font-style="italic" font-size="12.3">k</tspan><tspan dx="0.1" dy="2.4" font-size="8.5" letter-spacing="0.25">25</tspan></text>
<text x="163.4" y="255.6" text-anchor="middle"><tspan font-style="italic" font-size="12.3">k</tspan><tspan dx="0.1" dy="2.4" font-size="8.5" letter-spacing="0.25">23</tspan></text>
<text x="197.9" y="255.6" text-anchor="middle"><tspan font-style="italic" font-size="12.3">k</tspan><tspan dx="0.1" dy="2.4" font-size="8.5" letter-spacing="0.25">25</tspan></text>
<rect x="267.4" y="41.3" width="173.7" height="202.6" fill="none" stroke="#333333" stroke-width="1.4"/>
<text x="263.2" y="249.1" font-size="11" text-anchor="end">10<tspan dx="0.1" dy="-8.1" font-size="7.7">−2</tspan></text>
<text x="263.2" y="212.3" font-size="11" text-anchor="end">10<tspan dx="0.1" dy="-8.1" font-size="7.7">−1</tspan></text>
<text x="263.2" y="175.5" font-size="11" text-anchor="end">10<tspan dx="-0.2" dy="-7.4" font-size="7.7">0</tspan></text>
<text x="263.2" y="138.8" font-size="11" text-anchor="end">10<tspan dx="-0.2" dy="-7.4" font-size="7.7">1</tspan></text>
<text x="263.2" y="102.0" font-size="11" text-anchor="end">10<tspan dx="-0.2" dy="-7.4" font-size="7.7">2</tspan></text>
<text x="263.2" y="65.2" font-size="11" text-anchor="end">10<tspan dx="-0.2" dy="-7.4" font-size="7.7">3</tspan></text>
<text x="284.7" y="255.6" text-anchor="middle"><tspan font-style="italic" font-size="12.3">k</tspan><tspan dx="0.1" dy="2.4" font-size="8.5" letter-spacing="0.25">123</tspan></text>
<text x="319.4" y="255.6" text-anchor="middle"><tspan font-style="italic" font-size="12.3">k</tspan><tspan dx="0.1" dy="2.4" font-size="8.5" letter-spacing="0.25">125</tspan></text>
<text x="388.9" y="255.6" text-anchor="middle"><tspan font-style="italic" font-size="12.3">k</tspan><tspan dx="0.1" dy="2.4" font-size="8.5" letter-spacing="0.25">123</tspan></text>
<text x="423.6" y="255.6" text-anchor="middle"><tspan font-style="italic" font-size="12.3">k</tspan><tspan dx="0.1" dy="2.4" font-size="8.5" letter-spacing="0.25">125</tspan></text>
<rect x="492.9" y="41.1" width="173.5" height="202.9" fill="none" stroke="#333333" stroke-width="1.4"/>
<text x="488.7" y="249.2" font-size="11" text-anchor="end">10<tspan dx="0.1" dy="-8.1" font-size="7.7">−2</tspan></text>
<text x="488.7" y="212.4" font-size="11" text-anchor="end">10<tspan dx="0.1" dy="-8.1" font-size="7.7">−1</tspan></text>
<text x="488.7" y="175.6" font-size="11" text-anchor="end">10<tspan dx="-0.2" dy="-7.4" font-size="7.7">0</tspan></text>
<text x="488.7" y="138.9" font-size="11" text-anchor="end">10<tspan dx="-0.2" dy="-7.4" font-size="7.7">1</tspan></text>
<text x="488.7" y="102.1" font-size="11" text-anchor="end">10<tspan dx="-0.2" dy="-7.4" font-size="7.7">2</tspan></text>
<text x="488.7" y="65.3" font-size="11" text-anchor="end">10<tspan dx="-0.2" dy="-7.4" font-size="7.7">3</tspan></text>
<text x="510.1" y="255.6" text-anchor="middle"><tspan font-style="italic" font-size="12.3">k</tspan><tspan dx="0.1" dy="2.4" font-size="8.5" letter-spacing="0.25">1234</tspan></text>
<text x="544.8" y="255.6" text-anchor="middle"><tspan font-style="italic" font-size="12.3">k</tspan><tspan dx="0.1" dy="2.4" font-size="8.5" letter-spacing="0.25">1256</tspan></text>
<text x="614.2" y="255.6" text-anchor="middle"><tspan font-style="italic" font-size="12.3">k</tspan><tspan dx="0.1" dy="2.4" font-size="8.5" letter-spacing="0.25">1234</tspan></text>
<text x="648.9" y="255.6" text-anchor="middle"><tspan font-style="italic" font-size="12.3">k</tspan><tspan dx="0.1" dy="2.4" font-size="8.5" letter-spacing="0.25">1256</tspan></text>
<line x1="52.0" y1="267" x2="106.2" y2="267" stroke="#a8caef" stroke-width="1.7"/>
<text x="80.3" y="280.8" font-size="11" text-anchor="middle">IgG1</text>
<line x1="153.0" y1="267" x2="207.2" y2="267" stroke="#a8caef" stroke-width="1.7"/>
<text x="184.3" y="280.8" font-size="11" text-anchor="middle">IgG4</text>
<line x1="276.6" y1="267" x2="331.0" y2="267" stroke="#a8caef" stroke-width="1.7"/>
<text x="305.7" y="280.8" font-size="11" text-anchor="middle">IgG1</text>
<line x1="377.5" y1="267" x2="431.9" y2="267" stroke="#a8caef" stroke-width="1.7"/>
<text x="410.0" y="280.8" font-size="11" text-anchor="middle">IgG4</text>
<line x1="505.2" y1="267" x2="559.6" y2="267" stroke="#a8caef" stroke-width="1.7"/>
<text x="531.0" y="280.8" font-size="11" text-anchor="middle">IgG1</text>
<line x1="606.4" y1="267" x2="660.5" y2="267" stroke="#a8caef" stroke-width="1.7"/>
<text x="635.0" y="280.8" font-size="11" text-anchor="middle">IgG4</text>
<g transform="translate(12.80,0) rotate(-90)"><text x="-210.75" y="0" font-size="11.0">stiffness</text><text x="-167.70" y="0" font-size="11.0">(kcal</text><text x="-138.55" y="0" font-size="11.0">mol</text><rect x="-118.70" y="-7.3" width="5.00" height="0.85" fill="#303030"/><text x="-112.30" y="-4.9" font-size="7.7">1</text><text x="-104.45" y="0" font-size="11.0">nm</text><rect x="-88.40" y="-7.3" width="5.00" height="0.85" fill="#303030"/><text x="-82.80" y="-4.9" font-size="7.7">2</text><text x="-77.30" y="0" font-size="11.0">)</text></g>
<g transform="translate(239.50,0) rotate(-90)"><text x="-193.85" y="0" font-size="11.0">stiffness</text><text x="-151.70" y="0" font-size="11.0">(kcal</text><text x="-126.35" y="0" font-size="11.0">mol</text><rect x="-105.30" y="-7.3" width="5.50" height="0.85" fill="#303030"/><text x="-98.60" y="-4.9" font-size="7.7">1</text><text x="-94.10" y="0" font-size="11.0">)</text></g>
<g transform="translate(463.40,0) rotate(-90)"><text x="-193.85" y="0" font-size="11.0">stiffness</text><text x="-151.70" y="0" font-size="11.0">(kcal</text><text x="-126.35" y="0" font-size="11.0">mol</text><rect x="-105.30" y="-7.3" width="5.50" height="0.85" fill="#303030"/><text x="-98.60" y="-4.9" font-size="7.7">1</text><text x="-94.10" y="0" font-size="11.0">)</text></g>
<circle cx="599.1" cy="53.7" r="3.1" fill="#3b8dd0"/>
<text x="616.2" y="56.6" font-size="9.2" >1HZH</text>
<circle cx="599.1" cy="66.9" r="3.1" fill="#f03c2a"/>
<text x="616.2" y="69.8" font-size="9.2" >5DK3</text>
<circle cx="599.1" cy="80.1" r="3.1" fill="#31ad55"/>
<text x="616.2" y="83.0" font-size="9.2" >6GFE</text>
<circle cx="599.1" cy="93.3" r="3.1" fill="#7b74c9"/>
<text x="616.2" y="96.2" font-size="9.2" >1IGT</text>
<circle cx="599.1" cy="106.5" r="3.1" fill="#666666"/>
<text x="616.2" y="109.4" font-size="9.2" >1IGY</text>
<circle cx="599.1" cy="119.7" r="3.1" fill="#f26a10"/>
<text x="616.2" y="122.6" font-size="9.2" >AlphaFold</text>
</svg></body></html>
